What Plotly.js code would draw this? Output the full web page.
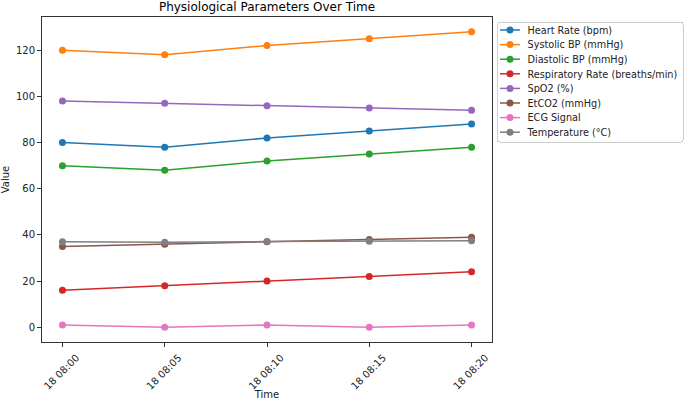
<!DOCTYPE html>
<html>
<head>
<meta charset="utf-8">
<script src="https://cdn.plot.ly/plotly-3.0.1.min.js"></script>
<style>
  body { margin: 0; background: #fff; }
  #chart { width: 685px; height: 400px; }
</style>
</head>
<body>
<div id="chart"></div>
<script>
const times = ['2024-01-18 08:00', '2024-01-18 08:05', '2024-01-18 08:10', '2024-01-18 08:15', '2024-01-18 08:20'];
const tickLabels = ['18 08:00', '18 08:05', '18 08:10', '18 08:15', '18 08:20'];

const heartRate = [80, 78, 82, 85, 88];
const systolicBP = [120, 118, 122, 125, 128];
const diastolicBP = [70, 68, 72, 75, 78];
const respRate = [16, 18, 20, 22, 24];
const spo2 = [98, 97, 96, 95, 94];
const etco2 = [35, 36, 37, 38, 39];
const ecg = [1, 0, 1, 0, 1];
const temperature = [37.0, 36.8, 37.1, 37.3, 37.5];

const seriesNames = ['Heart Rate (bpm)', 'Systolic BP (mmHg)', 'Diastolic BP (mmHg)',
  'Respiratory Rate (breaths/min)', 'SpO2 (%)', 'EtCO2 (mmHg)', 'ECG Signal', 'Temperature (°C)'];
const seriesValues = [heartRate, systolicBP, diastolicBP, respRate, spo2, etco2, ecg, temperature];
const colors = ['#1f77b4', '#ff7f0e', '#2ca02c', '#d62728', '#9467bd', '#8c564b', '#e377c2', '#7f7f7f'];

let data = seriesValues.map(function (vals, i) {
    return {
        type: 'scatter',
        mode: 'lines+markers',
        x: times,
        y: vals,
        name: seriesNames[i],
        line: { color: colors[i], width: 1.5 },
        marker: { color: colors[i], size: 7 }
    };
});

let layout = {
    width: 685,
    height: 400,
    margin: { l: 42, r: 193, t: 17, b: 58, autoexpand: false },
    paper_bgcolor: '#fff',
    plot_bgcolor: '#fff',
    font: { family: 'DejaVu Sans', size: 10, color: '#222' },
    title: {
        text: 'Physiological Parameters Over Time',
        font: { size: 12, color: '#000' },
        x: 0.5 * (42 + 492) / 685, xanchor: 'center',
        y: 0.982, yanchor: 'middle'
    },
    xaxis: {
        type: 'date',
        range: ['2024-01-18 07:59', '2024-01-18 08:21'],
        tickvals: times,
        ticktext: tickLabels,
        tickangle: -45,
        showgrid: false,
        zeroline: false,
        showline: true, mirror: true, linecolor: '#333', linewidth: 1,
        ticks: 'outside', ticklen: 4, tickcolor: '#333',
        title: { text: 'Time', font: { size: 10 }, standoff: 6 }
    },
    yaxis: {
        range: [-6.4, 134.4],
        tickvals: [0, 20, 40, 60, 80, 100, 120],
        showgrid: false,
        zeroline: false,
        showline: true, mirror: true, linecolor: '#333', linewidth: 1,
        ticks: 'outside', ticklen: 4, tickcolor: '#333',
        title: { text: 'Value', font: { size: 10 }, standoff: 10 }
    },
    legend: {
        x: 1.0, xanchor: 'left',
        y: 0.985, yanchor: 'top',
        bordercolor: '#ccc', borderwidth: 1,
        font: { size: 9.7 },
        tracegroupgap: 0,
        itemwidth: 30
    },
    showlegend: true
};

// matplotlib packs its legend tighter than plotly allows, so move rows/symbols after drawing
function tightenLegend(gd) {
    let legend = gd.querySelector('.legend');
    if (!legend) return;
    legend.setAttribute('transform', 'translate(497,22)');
    let rows = legend.querySelectorAll('.traces');
    let step = 14.6;
    rows.forEach(function (row, i) {
        row.setAttribute('transform', 'translate(0,' + (8 + i * step) + ')');
        let txt = row.querySelector('.legendtext');
        if (txt) txt.setAttribute('x', 30.5);
        row.querySelectorAll('.legendlines path').forEach(function (p) {
            p.setAttribute('d', 'M3,0h20');
        });
        row.querySelectorAll('.legendsymbols path').forEach(function (p) {
            p.setAttribute('transform', 'translate(13,0)');
        });
    });
    let bg = legend.querySelector('.bg');
    if (bg) {
        bg.setAttribute('x', 0.5);
        bg.setAttribute('y', 0.5);
        bg.setAttribute('width', 185.5);
        bg.setAttribute('height', 119.5);
        bg.setAttribute('rx', 2);
    }
    gd.querySelectorAll('clipPath[id*="legend"] rect').forEach(function (r) {
        r.setAttribute('x', 0);
        r.setAttribute('y', 0);
        r.setAttribute('width', 190);
        r.setAttribute('height', 125);
    });
    let sb = legend.querySelector('.scrollbox');
    if (sb) sb.setAttribute('transform', 'translate(0,0)');
}

// rotated tick labels in the reference are centred under the tick, plotly ends them at it
function centreXTicks(gd) {
    gd.querySelectorAll('.xtick text').forEach(function (t) {
        let tr = t.getAttribute('transform') || '';
        t.setAttribute('transform', 'translate(14,1) ' + tr);
    });
}

Plotly.newPlot('chart', data, layout, { displayModeBar: false, staticPlot: true }).then(function (gd) {
    tightenLegend(gd);
    centreXTicks(gd);
});
</script>
</body>
</html>
